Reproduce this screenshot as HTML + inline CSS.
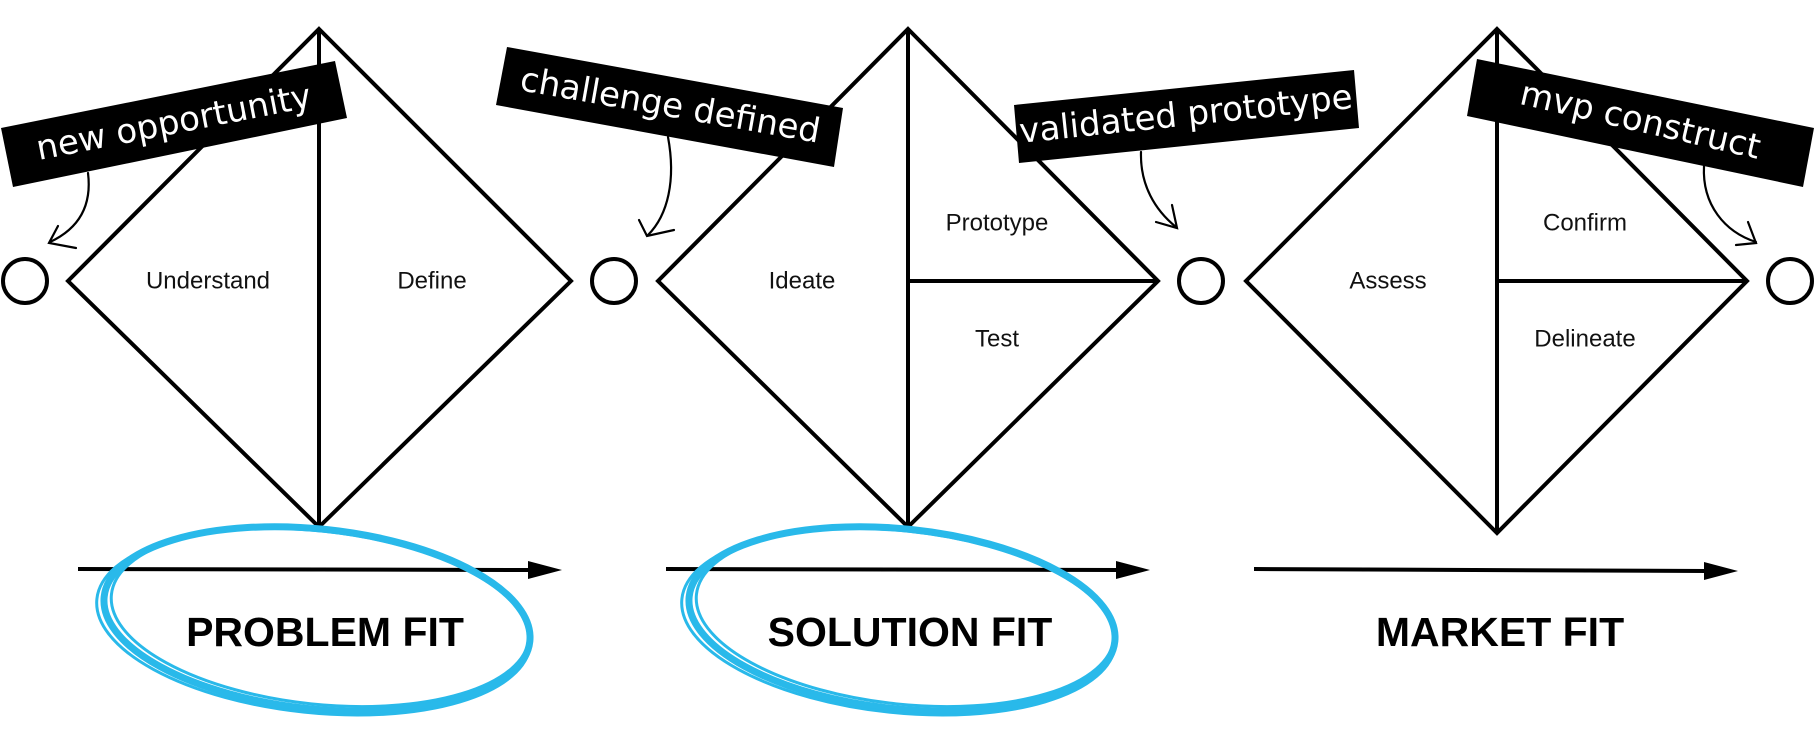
<!DOCTYPE html>
<html><head><meta charset="utf-8"><style>
html,body{margin:0;padding:0;background:#fff;}
svg{display:block}
.lbl{font-family:"Liberation Sans",sans-serif;font-size:24px;fill:#111;text-anchor:middle;dominant-baseline:middle}
.big{font-family:"Liberation Sans",sans-serif;font-size:41px;font-weight:bold;fill:#000;text-anchor:middle;dominant-baseline:middle}
.tag{font-family:"DejaVu Sans","Liberation Sans",sans-serif;font-size:34px;fill:#fff;text-anchor:middle;dominant-baseline:middle}
</style></head><body>
<svg width="1814" height="743" viewBox="0 0 1814 743" xmlns="http://www.w3.org/2000/svg">
<g fill="none" stroke="#000" stroke-width="4">
  <polygon points="319,29 571,281 319,527 68,281"/>
  <line x1="319" y1="29" x2="319" y2="527"/>
  <polygon points="908,29 1158,281 908,527 658,281"/>
  <line x1="908" y1="29" x2="908" y2="527"/>
  <line x1="908" y1="281" x2="1158" y2="281"/>
  <polygon points="1497,29 1747,281 1497,533 1246,281"/>
  <line x1="1497" y1="29" x2="1497" y2="533"/>
  <line x1="1497" y1="281" x2="1747" y2="281"/>
  <circle cx="25" cy="281" r="22"/>
  <circle cx="614" cy="281" r="22"/>
  <circle cx="1201" cy="281" r="22"/>
  <circle cx="1790" cy="281" r="22"/>
</g>
<g stroke="#000" stroke-width="4" fill="#000">
  <line x1="78" y1="569" x2="530" y2="570"/><polygon points="528,561 562,570 528,579" stroke="none"/>
  <line x1="666" y1="569" x2="1118" y2="570"/><polygon points="1116,561 1150,570 1116,579" stroke="none"/>
  <line x1="1254" y1="569" x2="1706" y2="571"/><polygon points="1704,562 1738,571 1704,580" stroke="none"/>
</g>
<text class="lbl" x="208" y="282">Understand</text>
<text class="lbl" x="432" y="282">Define</text>
<text class="lbl" x="802" y="282">Ideate</text>
<text class="lbl" x="997" y="224">Prototype</text>
<text class="lbl" x="997" y="340">Test</text>
<text class="lbl" x="1388" y="282">Assess</text>
<text class="lbl" x="1585" y="224">Confirm</text>
<text class="lbl" x="1585" y="340">Delineate</text>
<text class="big" x="325" y="635">PROBLEM FIT</text>
<text class="big" x="910" y="635">SOLUTION FIT</text>
<text class="big" x="1500" y="635">MARKET FIT</text>
<g fill="none" stroke="#29b9ea" stroke-linecap="round">
  <g transform="rotate(6 317 619)">
    <ellipse cx="317" cy="619" rx="214" ry="90" stroke-width="7"/>
    <ellipse cx="320" cy="616" rx="210" ry="88" stroke-width="3"/>
    <ellipse cx="314" cy="622" rx="218" ry="91" stroke-width="3"/>
  </g>
  <g transform="rotate(6 902 619)">
    <ellipse cx="902" cy="619" rx="214" ry="90" stroke-width="7"/>
    <ellipse cx="905" cy="616" rx="210" ry="88" stroke-width="3"/>
    <ellipse cx="899" cy="622" rx="218" ry="91" stroke-width="3"/>
  </g>
</g>
<polygon points="1,128 335,61 347,118 13,187" fill="#000"/>
<text class="tag" transform="translate(174,124) rotate(-11)">new opportunity</text>
<polygon points="507,47 843,108 834,167 496,105" fill="#000"/>
<text class="tag" transform="translate(670,107) rotate(10)">challenge defined</text>
<polygon points="1014,105 1354,70 1359,128 1019,163" fill="#000"/>
<text class="tag" transform="translate(1186,116) rotate(-6)">validated prototype</text>
<polygon points="1477,59 1814,128 1803,187 1467,116" fill="#000"/>
<text class="tag" transform="translate(1640,122) rotate(13)">mvp construct</text>
<g fill="none" stroke="#000" stroke-width="2.2" stroke-linecap="round">
  <path d="M88,173 C92,205 80,228 50,242"/><path d="M58,226 L49,243 L76,248"/>
  <path d="M668,137 C676,180 668,215 648,235"/><path d="M639,220 L647,236 L674,230"/>
  <path d="M1141,152 C1140,185 1155,210 1176,227"/><path d="M1156,222 L1177,228 L1172,205"/>
  <path d="M1704,166 C1702,205 1725,232 1756,242"/><path d="M1736,245 L1756,243 L1748,222"/>
</g>
</svg>
</body></html>
